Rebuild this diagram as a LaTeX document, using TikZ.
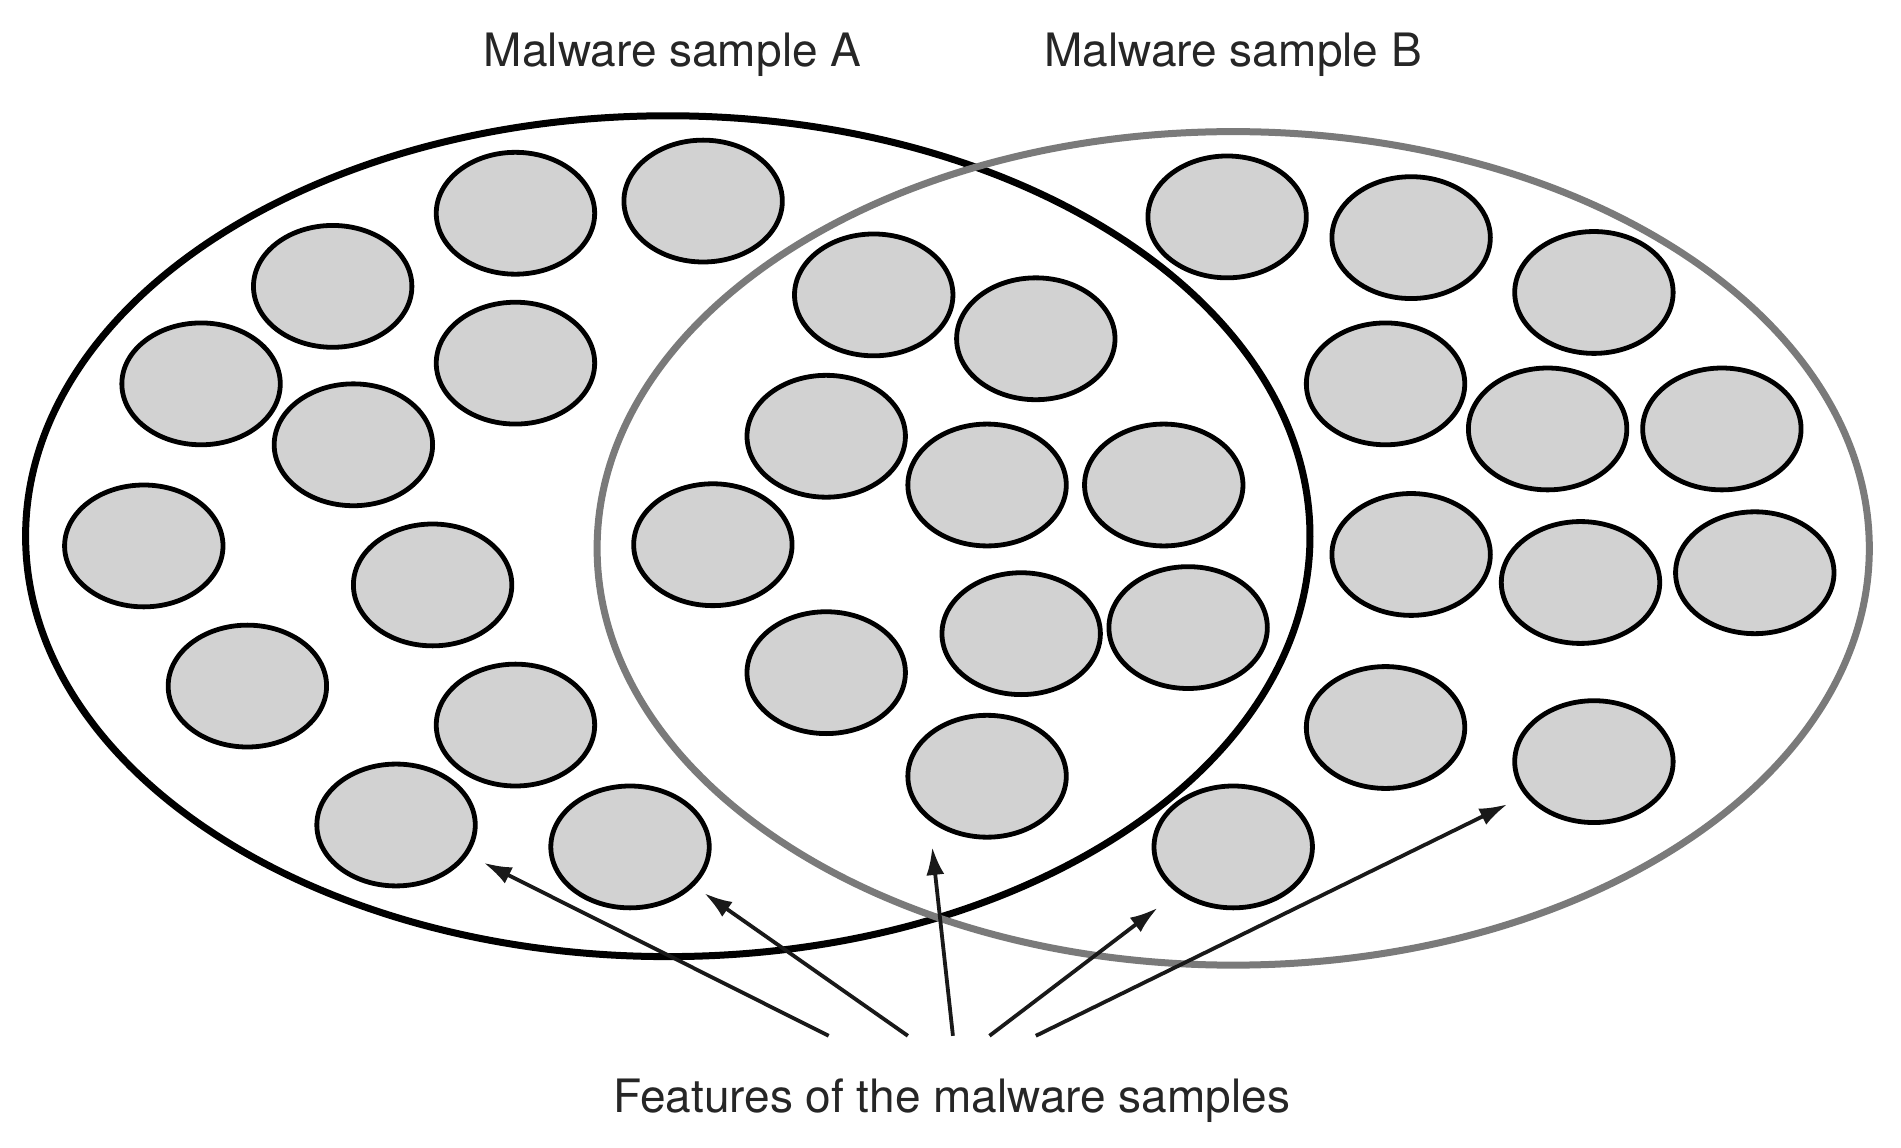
\documentclass[tikz,border=0pt]{standalone}
\usepackage{fontspec}
\setmainfont{TeX Gyre Heros}
\usetikzlibrary{arrows.meta}
\begin{document}
\begin{tikzpicture}[x=1.2186pt,y=-1.2186pt,
  feat/.style={draw=black,line width=4.8pt,fill=gray!35},
  lbl/.style={font=\fontsize{46}{50}\selectfont,text=black!85},
  arr/.style={-{Latex[length=28pt,width=18pt]},line width=3.8pt,black!90}]
\useasboundingbox (0,0) rectangle (1560,942);
\fill[white] (0,0) rectangle (1560,942);
\draw[line width=7pt] (548,440) ellipse [x radius=527,y radius=345];
\draw[line width=7pt,gray!70!black!80] (1012,450) ellipse [x radius=522,y radius=342];
\foreach \p [count=\i] in {(423,175),(577,165),(273,235),(165,315),(423,298),(290,365),(118,448),(355,480),(203,563),(423,595),(325,677),(517,695),
(717,242),(850,278),(678,358),(810,398),(955,398),(585,447),(838,520),(975,515),(678,552),(810,637),
(1007,178),(1158,195),(1308,240),(1137,315),(1270,352),(1413,352),(1158,455),(1297,478),(1440,470),(1137,597),(1308,625),(1012,695)}
  \draw[feat] \p ellipse [x radius=65,y radius=50] coordinate (f\i);
\node[lbl] (la) at (552,45) {Malware sample A};
\node[lbl] (lb) at (1012,45) {Malware sample B};
\node[lbl] (lf) at (781,903) {Features of the malware samples};
\coordinate (s1) at (680,850); \coordinate (e1) at (397,708);
\coordinate (s2) at (745,850); \coordinate (e2) at (578,733);
\coordinate (s3) at (782,850); \coordinate (e3) at (765,695);
\coordinate (s4) at (812,850); \coordinate (e4) at (950,745);
\coordinate (s5) at (850,850); \coordinate (e5) at (1237,660);
\foreach \k in {1,...,5} \draw[arr] (s\k) -- (e\k);
\end{tikzpicture}
\end{document}
